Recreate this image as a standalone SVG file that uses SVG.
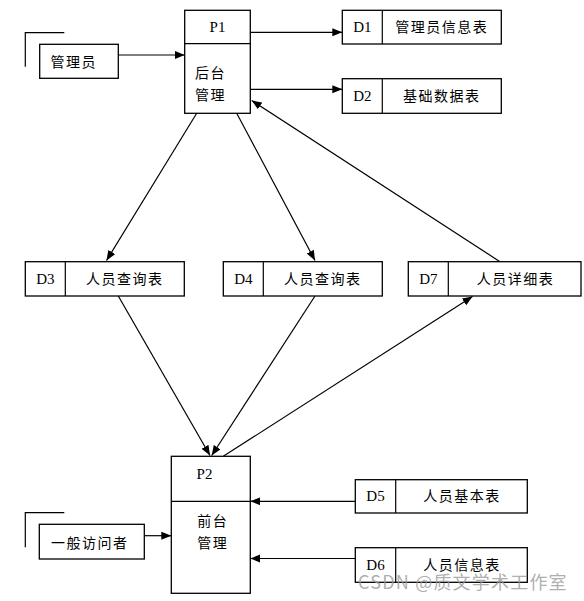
<svg xmlns="http://www.w3.org/2000/svg" width="584" height="601" viewBox="0 0 584 601">
<defs>
<style>
.box{fill:#fff;stroke:#000;stroke-width:1.3}
.ln{fill:none;stroke:#000;stroke-width:1.2}
.cl{fill:none;stroke:#000;stroke-width:1.2}
.cn{font-family:"Noto Sans CJK SC","Noto Sans CJK JP",sans-serif;font-size:14px;fill:#000;letter-spacing:1.5px}
.en{font-family:"Liberation Serif",serif;font-size:15px;fill:#000}
</style>
<marker id="ah" markerUnits="userSpaceOnUse" markerWidth="11" markerHeight="9" refX="10" refY="4" orient="auto">
<path d="M0,0 L10,4 L0,8 z" fill="#000"/>
</marker>
</defs>
<rect width="584" height="601" fill="#fff"/>

<g id="connectors">
<path class="ln" d="M118.3,55 L184.7,55" marker-end="url(#ah)"/>
<path class="ln" d="M250.3,32.3 L342.3,32.3" marker-end="url(#ah)"/>
<path class="ln" d="M250.3,89.3 L342.3,89.3" marker-end="url(#ah)"/>
<path class="ln" d="M196.7,113.3 L106.5,260.5" marker-end="url(#ah)"/>
<path class="ln" d="M236.7,113.3 L315,260.5" marker-end="url(#ah)"/>
<path class="ln" d="M500,261.7 L251.7,100.5" marker-end="url(#ah)"/>
<path class="ln" d="M118.3,296 L210,455.5" marker-end="url(#ah)"/>
<path class="ln" d="M315,296 L211.7,455.5" marker-end="url(#ah)"/>
<path class="ln" d="M223.3,456.3 L472.5,296.5" marker-end="url(#ah)"/>
<path class="ln" d="M144.3,535.7 L171.3,535.7" marker-end="url(#ah)"/>
<path class="ln" d="M355.3,501.3 L250.3,501.3" marker-end="url(#ah)"/>
<path class="ln" d="M355.3,558.5 L250.3,558.5" marker-end="url(#ah)"/>
</g>

<g id="admin">
<path class="cl" d="M64.3,32.7 L25.3,32.7 L25.3,66.7"/>
<rect class="box" x="39.7" y="44.3" width="78.6" height="34"/>
<text class="cn" x="50.5" y="67">管理员</text>
</g>

<g id="P1">
<rect class="box" x="184.7" y="10.3" width="65.6" height="103"/>
<line class="ln" x1="184.7" y1="43.7" x2="250.3" y2="43.7"/>
<text class="en" x="217.5" y="32" text-anchor="middle">P1</text>
<text class="cn" x="195" y="78">后台</text>
<text class="cn" x="195" y="100">管理</text>
</g>

<g id="D1">
<rect class="box" x="342.3" y="10.3" width="159" height="33.7"/>
<line class="ln" x1="382.3" y1="10.3" x2="382.3" y2="44"/>
<text class="en" x="362.3" y="32" text-anchor="middle">D1</text>
<text class="cn" x="441.8" y="32" text-anchor="middle">管理员信息表</text>
</g>

<g id="D2">
<rect class="box" x="342.3" y="78.7" width="159" height="34.6"/>
<line class="ln" x1="382.3" y1="78.7" x2="382.3" y2="113.3"/>
<text class="en" x="362.3" y="101" text-anchor="middle">D2</text>
<text class="cn" x="441.8" y="101" text-anchor="middle">基础数据表</text>
</g>

<g id="D3">
<rect class="box" x="25.3" y="261.7" width="159" height="34.3"/>
<line class="ln" x1="65.3" y1="261.7" x2="65.3" y2="296"/>
<text class="en" x="45.3" y="284" text-anchor="middle">D3</text>
<text class="cn" x="124.8" y="284" text-anchor="middle">人员查询表</text>
</g>

<g id="D4">
<rect class="box" x="223.3" y="261.7" width="159" height="34.3"/>
<line class="ln" x1="263.3" y1="261.7" x2="263.3" y2="296"/>
<text class="en" x="243.3" y="284" text-anchor="middle">D4</text>
<text class="cn" x="322.8" y="284" text-anchor="middle">人员查询表</text>
</g>

<g id="D7">
<rect class="box" x="408.3" y="261.7" width="172.7" height="34.3"/>
<line class="ln" x1="448.3" y1="261.7" x2="448.3" y2="296"/>
<text class="en" x="428.3" y="284" text-anchor="middle">D7</text>
<text class="cn" x="515.5" y="284" text-anchor="middle">人员详细表</text>
</g>

<g id="visitor">
<path class="cl" d="M64.3,512.7 L25.3,512.7 L25.3,547.3"/>
<rect class="box" x="39.3" y="524.3" width="105" height="34.7"/>
<text class="cn" x="51" y="548">一般访问者</text>
</g>

<g id="P2">
<rect class="box" x="171.3" y="456.3" width="79" height="137"/>
<line class="ln" x1="171.3" y1="501.3" x2="250.3" y2="501.3"/>
<text class="en" x="204.5" y="479" text-anchor="middle">P2</text>
<text class="cn" x="197.3" y="526">前台</text>
<text class="cn" x="197.3" y="548">管理</text>
</g>

<g id="D5">
<rect class="box" x="355.3" y="479.7" width="172" height="33.3"/>
<line class="ln" x1="395.7" y1="479.7" x2="395.7" y2="513"/>
<text class="en" x="375.5" y="501" text-anchor="middle">D5</text>
<text class="cn" x="462" y="501" text-anchor="middle">人员基本表</text>
</g>

<g id="D6">
<rect class="box" x="355.3" y="547.7" width="172" height="34.6"/>
<line class="ln" x1="395.7" y1="547.7" x2="395.7" y2="582.3"/>
<text class="en" x="375.5" y="570" text-anchor="middle">D6</text>
<text class="cn" x="462" y="570" text-anchor="middle">人员信息表</text>
</g>

<text x="358" y="589" font-family="'Noto Sans CJK SC',sans-serif" font-size="18" letter-spacing="1.2" fill="#999" fill-opacity="0.8">CSDN @质文学术工作室</text>
</svg>
